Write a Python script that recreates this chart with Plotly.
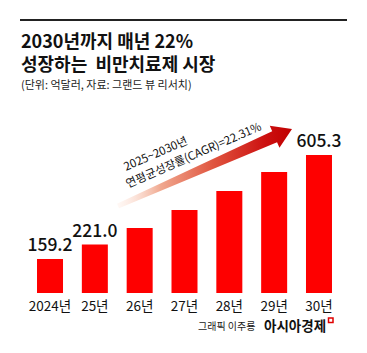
import plotly.graph_objects as go
import math

# ---- data ----
years = ["2024년", "25년", "26년", "27년", "28년", "29년", "30년"]
market = [159.2, 221.0, 292, 369, 451, 532, 605.3]
shown_labels = ["159.2", "221.0", "", "", "", "", "605.3"]

title_1 = "2030년까지 매년 22%"
title_2 = "성장하는  비만치료제 시장"
subtitle = "(단위: 억달러, 자료: 그랜드 뷰 리서치)"
arrow_line_1 = "2025~2030년"
arrow_line_2 = "연평균성장률(CAGR)=22.31%"
credit = "그래픽 이주룡"
brand = "아시아경제"

W, H = 367, 353
KR = "Noto Sans CJK KR"

def px(x):
    return x / W

def py(y):
    return 1 - y / H

fig = go.Figure()

fig.add_trace(go.Bar(
    x=years, y=market,
    marker=dict(color="#fe0000", line=dict(width=0)),
    text=shown_labels, textposition="outside",
    textfont=dict(family=KR, size=17.5, color="#111", weight=500),
    constraintext="none", cliponaxis=False,
    xaxis="x", yaxis="y", hoverinfo="skip",
))

# decorative growth arrow (pixel overlay axes)
tail = (118, 206)
tip = (292, 129)
dx, dy = tip[0] - tail[0], tip[1] - tail[1]
L = math.hypot(dx, dy)
ux, uy = dx / L, dy / L
nx, ny = -uy, ux
head_len, head_w = 19, 12
bx, by = tip[0] - head_len * ux, tip[1] - head_len * uy
w0, w1 = 2.5, 6
poly = [
    (tail[0] + nx * w0, tail[1] + ny * w0),
    (bx + nx * w1, by + ny * w1),
    (bx + nx * head_w, by + ny * head_w),
    tip,
    (bx - nx * head_w, by - ny * head_w),
    (bx - nx * w1, by - ny * w1),
    (tail[0] - nx * w0, tail[1] - ny * w0),
]
fig.add_trace(go.Scatter(
    x=[p[0] for p in poly] + [poly[0][0]],
    y=[p[1] for p in poly] + [poly[0][1]],
    mode="lines", line=dict(width=0), fill="toself",
    fillgradient=dict(type="horizontal", colorscale=[
        [0, "rgba(255,235,225,0.3)"], [0.25, "#f0a88f"], [0.55, "#e0553f"],
        [0.85, "#cc1010"], [1, "#c00000"]]),
    xaxis="x2", yaxis="y2", hoverinfo="skip",
))

x0, x1 = 27.6, 341.4
bottom, top = 293, 100
fig.update_layout(
    width=W, height=H,
    margin=dict(l=0, r=0, t=0, b=0),
    paper_bgcolor="white", plot_bgcolor="rgba(0,0,0,0)",
    showlegend=False, bargap=0.42,
    xaxis=dict(domain=[px(x0), px(x1)], anchor="y", showgrid=False, zeroline=False,
               showline=False, ticks="", tickfont=dict(family=KR, size=13.5, color="#111"),
               ticklabelstandoff=3, fixedrange=True),
    yaxis=dict(domain=[py(bottom), py(top)], range=[13.3, 841], visible=False, fixedrange=True),
    xaxis2=dict(domain=[0, 1], range=[0, W], visible=False, anchor="y2", fixedrange=True),
    yaxis2=dict(domain=[0, 1], range=[H, 0], visible=False, anchor="x2", fixedrange=True),
    shapes=[
        dict(type="line", xref="paper", yref="paper", x0=px(20), x1=px(347),
             y0=py(20), y1=py(20), line=dict(color="#222", width=2)),
        dict(type="rect", xref="paper", yref="paper", x0=px(328.5), x1=px(333),
             y0=py(318), y1=py(322.5), line=dict(color="#e00000", width=1.5)),
    ],
    annotations=[
        dict(text=f"<b>{title_1}</b><br><b>{title_2}</b>", x=px(19), y=py(51),
             xref="paper", yref="paper", align="left",
             xanchor="left", yanchor="middle", showarrow=False,
             font=dict(family=KR, size=18, color="#111")),
        dict(text=subtitle, x=px(19), y=py(84), xref="paper", yref="paper",
             xanchor="left", yanchor="middle", showarrow=False,
             font=dict(family=KR, size=11, color="#222")),
        dict(text=arrow_line_1, x=px(154.5), y=py(152.5), xref="paper", yref="paper",
             xanchor="center", yanchor="middle", showarrow=False, textangle=-23.5,
             font=dict(family=KR, size=11.5, color="#111")),
        dict(text=arrow_line_2, x=px(193.5), y=py(154), xref="paper", yref="paper",
             xanchor="center", yanchor="middle", showarrow=False, textangle=-23.5,
             font=dict(family=KR, size=11.5, color="#111")),
        dict(text=credit, x=px(257), y=py(325), xref="paper", yref="paper",
             xanchor="right", yanchor="middle", showarrow=False,
             font=dict(family=KR, size=10, color="#222")),
        dict(text=f"<b>{brand}</b>", x=px(262), y=py(325), xref="paper", yref="paper",
             xanchor="left", yanchor="middle", showarrow=False,
             font=dict(family=KR, size=13.5, color="#111")),
    ],
)

fig.write_html("out.html")
